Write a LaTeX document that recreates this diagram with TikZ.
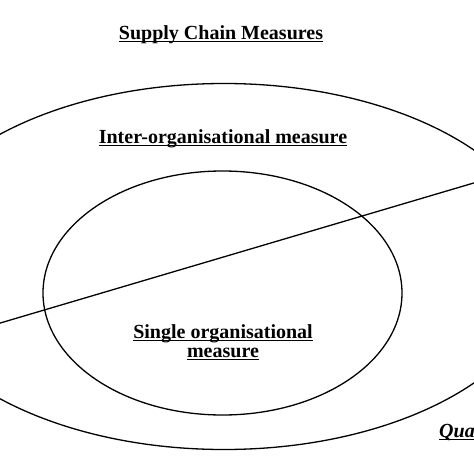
\documentclass[tikz,border=0pt]{standalone}
\usepackage{fontspec}
\setmainfont{Liberation Serif}
\newcommand\ulbox[1]{\setbox0\hbox{#1}\rlap{\rule[-3.2pt]{\wd0}{1.4pt}}\box0}
\tikzset{every node/.style={inner sep=0pt,font=\fontsize{20}{21}\selectfont\bfseries}}
\tikzset{t/.style={anchor=base}}
\tikzset{ring/.style={line width=1.3pt}}

\begin{document}
\begin{tikzpicture}[x=1pt,y=-1pt]
  \useasboundingbox (0,0) rectangle (474,474);
  \clip (0,0) rectangle (474,474);
  \draw[ring] (224,266.5) ellipse [x radius=324,y radius=183];
  \draw[ring] (222.5,293) ellipse [x radius=179.5,y radius=122];
  \coordinate (a) at (-20,329);
  \coordinate (b) at (494,177);
    \draw[ring] (a) -- (b);
  \node[t] (scm) at (221,39) {\ulbox{Supply Chain Measures}};
  \node[t] (inter) at (223,143) {\ulbox{Inter-organisational measure}};
  \node[t] (single) at (223,338) {\ulbox{Single organisational}};
  \node[t] (single2) at (223,357) {\ulbox{measure}};
  \node[t,anchor=base west] (qual) at (439,437) {\ulbox{\itshape Qualitative}};
\end{tikzpicture}
\end{document}
